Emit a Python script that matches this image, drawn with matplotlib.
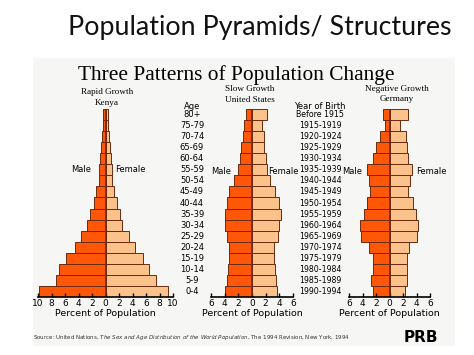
import numpy as np
import matplotlib
matplotlib.use("Agg")
from matplotlib import pyplot as plt
from matplotlib.patches import Rectangle

# age groups, bottom to top
ages = ['0-4', '5-9', '10-14', '15-19', '20-24', '25-29', '30-34', '35-39', '40-44',
        '45-49', '50-54', '55-59', '60-64', '65-69', '70-74', '75-79', '80+']
births = ['1990-1994', '1985-1989', '1980-1984', '1975-1979', '1970-1974', '1965-1969',
          '1960-1964', '1955-1959', '1950-1954', '1945-1949', '1940-1944', '1935-1939',
          '1930-1934', '1925-1929', '1920-1924', '1915-1919', 'Before 1915']

# percent of population
kenya_male = [9.8, 7.3, 6.9, 5.8, 4.5, 3.7, 2.8, 2.3, 1.7, 1.4, 1.0, 0.9, 0.8, 0.6, 0.5, 0.4, 0.3]
kenya_female = [9.3, 7.5, 6.5, 5.6, 4.3, 3.5, 2.5, 2.2, 1.7, 1.3, 1.0, 0.9, 0.8, 0.6, 0.5, 0.4, 0.3]
us_male = [4.0, 3.6, 3.5, 3.4, 3.4, 3.6, 4.0, 4.0, 3.7, 3.3, 2.6, 2.1, 1.8, 1.6, 1.3, 1.1, 0.9]
us_female = [3.7, 3.5, 3.4, 3.2, 3.2, 3.8, 4.0, 4.2, 3.9, 3.4, 2.7, 2.2, 2.1, 1.7, 1.7, 1.5, 2.2]
ger_male = [2.5, 2.7, 2.5, 2.5, 3.0, 4.2, 4.4, 3.8, 3.4, 2.9, 3.0, 3.3, 2.5, 2.0, 1.4, 0.6, 1.0]
ger_female = [2.3, 2.6, 2.6, 2.6, 2.9, 4.0, 4.2, 3.9, 3.5, 2.8, 3.0, 3.4, 2.7, 2.6, 2.5, 1.6, 2.8]

W, H = 474, 355
MALE = '#ff5708'
FEMALE = '#fcc28c'
EDGE = '#6b2a0e'
NARROW = ['Liberation Sans Narrow', 'DejaVu Sans']

fig = plt.figure(figsize=(W / 100, H / 100), dpi=100)
fig.patch.set_facecolor('white')


def fx(x):
    return x / W


def fy(y):
    return 1 - y / H


def txt(x, y, s, size, **kw):
    kw.setdefault('ha', 'center')
    kw.setdefault('va', 'center')
    fig.text(fx(x), fy(y), s, fontsize=size, **kw)


# slide title
txt(260, 27, 'Population Pyramids/ Structures', 19.3, family='Lato', color='#111111')

# embedded picture background
fig.patches.append(Rectangle((fx(33), fy(346)), fx(455) - fx(33), fy(58) - fy(346),
                             transform=fig.transFigure, facecolor='#f6f6f4',
                             edgecolor='none', zorder=-5))

txt(236, 75, 'Three Patterns of Population Change', 15.4, family='Liberation Serif')

top, bot = 109, 297
rows = np.arange(len(ages))


def pyramid(x0, x1, lim, male, female, tick_step):
    ax = fig.add_axes([fx(x0), fy(bot), fx(x1) - fx(x0), fy(top) - fy(bot)])
    ax.barh(rows, -np.array(male), height=1.0, color=MALE, edgecolor=EDGE, linewidth=0.7)
    ax.barh(rows, female, height=1.0, color=FEMALE, edgecolor=EDGE, linewidth=0.7)
    ax.axvline(0, color=EDGE, lw=1.2)
    ax.set_xlim(-lim, lim)
    ax.set_ylim(-0.5, len(ages) - 0.5)
    ax.set_facecolor('none')
    for s in ['top', 'left', 'right']:
        ax.spines[s].set_visible(False)
    ax.spines['bottom'].set_linewidth(1.2)
    ticks = np.arange(-lim, lim + 1, tick_step)
    ax.set_xticks(ticks)
    ax.set_xticklabels([str(abs(t)) for t in ticks], family=NARROW, fontsize=6.5)
    ax.tick_params(axis='x', direction='in', length=3, width=1, pad=1.5)
    ax.set_yticks([])
    ax.set_xlabel('Percent of Population', family=NARROW, fontsize=6.8, labelpad=1)
    return ax


pyramid(38, 173, 10, kenya_male, kenya_female, 2)
pyramid(211, 293, 6, us_male, us_female, 2)
pyramid(349, 430, 6, ger_male, ger_female, 2)

# headers
txt(107, 92, 'Rapid Growth', 6.6, family='Liberation Serif')
txt(107, 103, 'Kenya', 6.6, family='Liberation Serif')
txt(250, 89, 'Slow Growth', 6.6, family='Liberation Serif')
txt(250, 100, 'United States', 6.6, family='Liberation Serif')
txt(397, 89, 'Negative Growth', 6.6, family='Liberation Serif')
txt(397, 99, 'Germany', 6.6, family='Liberation Serif')

# Male / Female labels
for xm, xf, y in [(81, 130, 170), (221, 283, 172), (352, 431, 172)]:
    txt(xm, y, 'Male', 6, family=NARROW)
    txt(xf, y, 'Female', 6, family=NARROW)

# age and birth-year columns
row_h = (bot - top) / len(ages)
txt(192, 106, 'Age', 6, family=NARROW)
txt(320, 106, 'Year of Birth', 6, family=NARROW)
for i in range(len(ages)):
    y = bot - (i + 0.5) * row_h
    txt(192, y, ages[i], 6, family=NARROW)
    txt(320, y, births[i], 5.7, family=NARROW)

# source line and logo
fig.text(fx(33), fy(338), 'Source: United Nations, $\\it{The\\ Sex\\ and\\ Age\\ Distribution\\ of\\ the\\ World\\ Population}$, The 1994 Revision, New York, 1994',
         fontsize=4.0, family=NARROW, ha='left', va='center', color='#333333')
txt(421, 338, 'PRB', 11, family='DejaVu Sans', weight='heavy')

fig.savefig('out.png', dpi=100)
